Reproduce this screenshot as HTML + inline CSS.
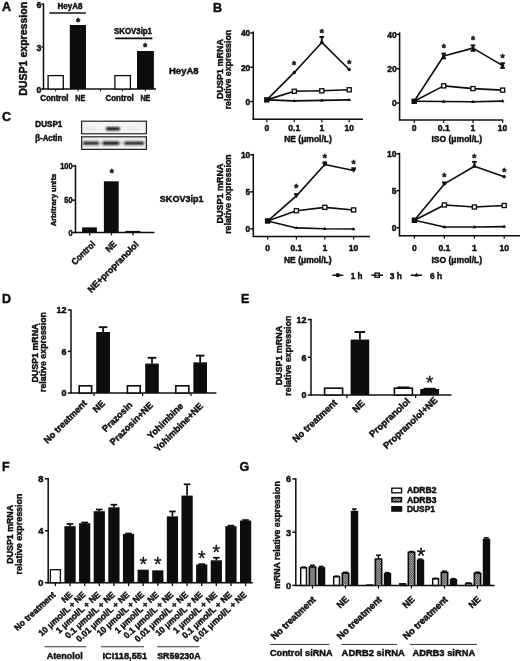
<!DOCTYPE html>
<html lang="en">
<head>
<meta charset="utf-8">
<title>DUSP1 expression figure</title>
<style>
html,body{margin:0;padding:0;background:#fff;}
body{width:520px;height:661px;overflow:hidden;}
svg{display:block;font-family:"Liberation Sans",Arial,Helvetica,sans-serif;}
text{font-weight:bold;fill:#0a0a0a;stroke:#0a0a0a;stroke-width:.42px;stroke-linejoin:round;}
text.s{font-weight:normal;stroke-width:.3px;}
</style>
</head>
<body>
<svg width="520" height="661" viewBox="0 0 520 661">
<defs>
<pattern id="hatch" width="2.4" height="2.4" patternUnits="userSpaceOnUse"><rect width="2.4" height="2.4" fill="#111"/><path d="M-0.82 0.00L0.00 -0.82L0.82 0.00L0.00 0.82ZM1.58 0.00L2.40 -0.82L3.22 0.00L2.40 0.82ZM-0.82 2.40L0.00 1.58L0.82 2.40L0.00 3.22ZM1.58 2.40L2.40 1.58L3.22 2.40L2.40 3.22ZM0.38 1.20L1.20 0.38L2.02 1.20L1.20 2.02Z" fill="#fff"/></pattern>
<filter id="soft" x="-5%" y="-5%" width="110%" height="110%"><feGaussianBlur stdDeviation="0.35"/></filter>
<filter id="blur1" x="-20%" y="-50%" width="140%" height="200%"><feGaussianBlur stdDeviation="0.9"/></filter>
</defs>
<rect width="520" height="661" fill="#fff"/>
<g filter="url(#soft)">
<text x="2" y="11.38" font-size="12.5">A</text>
<line x1="43.5" y1="3.5" x2="43.5" y2="89.6" stroke="#0a0a0a" stroke-width="1.5"/>
<line x1="42.4" y1="89" x2="156" y2="89" stroke="#0a0a0a" stroke-width="1.5"/>
<line x1="41.4" y1="4.2" x2="43.5" y2="4.2" stroke="#0a0a0a" stroke-width="1.5"/>
<text x="41.3" y="8.09" font-size="9.2" text-anchor="end" textLength="4.9" lengthAdjust="spacingAndGlyphs">6</text>
<line x1="41.4" y1="47" x2="43.5" y2="47" stroke="#0a0a0a" stroke-width="1.5"/>
<text x="41.3" y="50.89" font-size="9.2" text-anchor="end" textLength="4.9" lengthAdjust="spacingAndGlyphs">3</text>
<line x1="41.4" y1="89" x2="43.5" y2="89" stroke="#0a0a0a" stroke-width="1.5"/>
<text x="41.3" y="92.89" font-size="9.2" text-anchor="end" textLength="4.9" lengthAdjust="spacingAndGlyphs">0</text>
<text x="23.2" y="52.52" font-size="10.4" text-anchor="middle" transform="rotate(-90 23.2 48.8)" textLength="94" lengthAdjust="spacingAndGlyphs">DUSP1 expression</text>
<rect x="48.1" y="75.6" width="15.2" height="13.4" fill="#fff" stroke="#0a0a0a" stroke-width="1.3"/>
<rect x="69.8" y="25" width="16.2" height="64" fill="#0a0a0a"/>
<rect x="114.9" y="75.6" width="15.5" height="13.4" fill="#fff" stroke="#0a0a0a" stroke-width="1.3"/>
<rect x="137" y="51" width="16.9" height="38" fill="#0a0a0a"/>
<line x1="55.6" y1="89" x2="55.6" y2="91.4" stroke="#0a0a0a" stroke-width="1"/>
<line x1="78" y1="89" x2="78" y2="91.4" stroke="#0a0a0a" stroke-width="1"/>
<line x1="100.5" y1="89" x2="100.5" y2="91.4" stroke="#0a0a0a" stroke-width="1"/>
<line x1="122.6" y1="89" x2="122.6" y2="91.4" stroke="#0a0a0a" stroke-width="1"/>
<line x1="145.4" y1="89" x2="145.4" y2="91.4" stroke="#0a0a0a" stroke-width="1"/>
<text x="54.4" y="101.28" font-size="8.6" text-anchor="middle" textLength="28.3" lengthAdjust="spacingAndGlyphs">Control</text>
<text x="80.2" y="101.28" font-size="8.6" text-anchor="middle" textLength="10" lengthAdjust="spacingAndGlyphs">NE</text>
<text x="119.6" y="101.28" font-size="8.6" text-anchor="middle" textLength="28.3" lengthAdjust="spacingAndGlyphs">Control</text>
<text x="145.4" y="101.28" font-size="8.6" text-anchor="middle" textLength="10" lengthAdjust="spacingAndGlyphs">NE</text>
<text x="70" y="8.55" font-size="8.8" text-anchor="middle" textLength="25" lengthAdjust="spacingAndGlyphs">HeyA8</text>
<line x1="49.4" y1="13" x2="85.8" y2="13" stroke="#0a0a0a" stroke-width="1.6"/>
<text x="78.2" y="25.81" font-size="11" text-anchor="middle">*</text>
<text x="133" y="34.35" font-size="8.8" text-anchor="middle" textLength="38" lengthAdjust="spacingAndGlyphs">SKOV3ip1</text>
<line x1="115.2" y1="38.4" x2="152.4" y2="38.4" stroke="#0a0a0a" stroke-width="1.6"/>
<text x="145.2" y="50.91" font-size="11" text-anchor="middle">*</text>
<text x="169" y="74.31" font-size="9.8" textLength="29.6" lengthAdjust="spacingAndGlyphs">HeyA8</text>
<text x="213" y="11.88" font-size="12.5">B</text>
<line x1="253.3" y1="31.4" x2="253.3" y2="119.9" stroke="#0a0a0a" stroke-width="1.5"/>
<line x1="252.7" y1="119.3" x2="363" y2="119.3" stroke="#0a0a0a" stroke-width="1.5"/>
<line x1="250.3" y1="33" x2="253.3" y2="33" stroke="#0a0a0a" stroke-width="1.5"/>
<text x="250.3" y="36.45" font-size="8.8" text-anchor="end" textLength="9.4" lengthAdjust="spacingAndGlyphs">40</text>
<line x1="250.3" y1="67.3" x2="253.3" y2="67.3" stroke="#0a0a0a" stroke-width="1.5"/>
<text x="250.3" y="70.75" font-size="8.8" text-anchor="end" textLength="9.4" lengthAdjust="spacingAndGlyphs">20</text>
<line x1="250.3" y1="101.6" x2="253.3" y2="101.6" stroke="#0a0a0a" stroke-width="1.5"/>
<text x="250.3" y="105.05" font-size="8.8" text-anchor="end" textLength="4.7" lengthAdjust="spacingAndGlyphs">0</text>
<line x1="266.8" y1="119.3" x2="266.8" y2="122.3" stroke="#0a0a0a" stroke-width="1.2"/>
<text x="266.8" y="130.58" font-size="8.6" text-anchor="middle">0</text>
<line x1="294.3" y1="119.3" x2="294.3" y2="122.3" stroke="#0a0a0a" stroke-width="1.2"/>
<text x="294.3" y="130.58" font-size="8.6" text-anchor="middle">0.1</text>
<line x1="321.8" y1="119.3" x2="321.8" y2="122.3" stroke="#0a0a0a" stroke-width="1.2"/>
<text x="321.8" y="130.58" font-size="8.6" text-anchor="middle">1</text>
<line x1="349.2" y1="119.3" x2="349.2" y2="122.3" stroke="#0a0a0a" stroke-width="1.2"/>
<text x="349.2" y="130.58" font-size="8.6" text-anchor="middle">10</text>
<text x="308" y="142.02" font-size="9" text-anchor="middle" textLength="47.6" lengthAdjust="spacingAndGlyphs">NE (μmol/L)</text>
<text x="220.1" y="72.11" font-size="8.7" text-anchor="middle" transform="rotate(-90 220.1 69)" textLength="59.8" lengthAdjust="spacingAndGlyphs">DUSP1 mRNA</text>
<text x="228.1" y="72.71" font-size="8.7" text-anchor="middle" transform="rotate(-90 228.1 69.6)" textLength="79.4" lengthAdjust="spacingAndGlyphs">relative expression</text>
<polyline points="266.8,99.88 294.3,100.91 321.8,100.4 349.2,99.88" fill="none" stroke="#0a0a0a" stroke-width="1.6" stroke-linejoin="round"/>
<path d="M292.4 102.11L296.2 102.11L294.3 98.91Z" fill="#0a0a0a"/>
<path d="M319.9 101.6L323.7 101.6L321.8 98.4Z" fill="#0a0a0a"/>
<path d="M347.3 101.08L351.1 101.08L349.2 97.88Z" fill="#0a0a0a"/>
<polyline points="266.8,99.88 294.3,91.31 321.8,90.8 349.2,89.77" fill="none" stroke="#0a0a0a" stroke-width="1.6" stroke-linejoin="round"/>
<rect x="292.25" y="89.26" width="4.1" height="4.1" fill="#fff" stroke="#0a0a0a" stroke-width="1.3"/>
<rect x="319.75" y="88.75" width="4.1" height="4.1" fill="#fff" stroke="#0a0a0a" stroke-width="1.3"/>
<rect x="347.15" y="87.72" width="4.1" height="4.1" fill="#fff" stroke="#0a0a0a" stroke-width="1.3"/>
<polyline points="266.8,99.88 294.3,72.44 321.8,42.43 349.2,69.53" fill="none" stroke="#0a0a0a" stroke-width="1.6" stroke-linejoin="round"/>
<circle cx="294.3" cy="72.44" r="1.7" fill="#0a0a0a"/>
<circle cx="321.8" cy="42.43" r="1.7" fill="#0a0a0a"/>
<circle cx="349.2" cy="69.53" r="1.7" fill="#0a0a0a"/>
<line x1="321.8" y1="42.43" x2="321.8" y2="36.94" stroke="#0a0a0a" stroke-width="1.9"/>
<line x1="319.5" y1="36.94" x2="324.1" y2="36.94" stroke="#0a0a0a" stroke-width="1.9"/>
<rect x="264.1" y="97.18" width="5.4" height="5.4" fill="#0a0a0a"/>
<text x="294" y="68.95" font-size="10.5" text-anchor="middle">*</text>
<text x="321.8" y="36.95" font-size="10.5" text-anchor="middle">*</text>
<text x="349.2" y="67.95" font-size="10.5" text-anchor="middle">*</text>
<line x1="399.6" y1="32.4" x2="399.6" y2="120.6" stroke="#0a0a0a" stroke-width="1.5"/>
<line x1="399" y1="120" x2="503.2" y2="120" stroke="#0a0a0a" stroke-width="1.5"/>
<line x1="396.6" y1="34.4" x2="399.6" y2="34.4" stroke="#0a0a0a" stroke-width="1.5"/>
<text x="396.6" y="37.85" font-size="8.8" text-anchor="end" textLength="9.4" lengthAdjust="spacingAndGlyphs">40</text>
<line x1="396.6" y1="68.7" x2="399.6" y2="68.7" stroke="#0a0a0a" stroke-width="1.5"/>
<text x="396.6" y="72.15" font-size="8.8" text-anchor="end" textLength="9.4" lengthAdjust="spacingAndGlyphs">20</text>
<line x1="396.6" y1="103" x2="399.6" y2="103" stroke="#0a0a0a" stroke-width="1.5"/>
<text x="396.6" y="106.45" font-size="8.8" text-anchor="end" textLength="4.7" lengthAdjust="spacingAndGlyphs">0</text>
<line x1="414.2" y1="120" x2="414.2" y2="123" stroke="#0a0a0a" stroke-width="1.2"/>
<text x="414.2" y="131.28" font-size="8.6" text-anchor="middle">0</text>
<line x1="443.7" y1="120" x2="443.7" y2="123" stroke="#0a0a0a" stroke-width="1.2"/>
<text x="443.7" y="131.28" font-size="8.6" text-anchor="middle">0.1</text>
<line x1="473" y1="120" x2="473" y2="123" stroke="#0a0a0a" stroke-width="1.2"/>
<text x="473" y="131.28" font-size="8.6" text-anchor="middle">1</text>
<line x1="502.6" y1="120" x2="502.6" y2="123" stroke="#0a0a0a" stroke-width="1.2"/>
<text x="502.6" y="131.28" font-size="8.6" text-anchor="middle">10</text>
<text x="456.8" y="142.02" font-size="9" text-anchor="middle" textLength="50.6" lengthAdjust="spacingAndGlyphs">ISO (μmol/L)</text>
<polyline points="414.2,101.28 443.7,101.46 473,101.8 502.6,101.11" fill="none" stroke="#0a0a0a" stroke-width="1.6" stroke-linejoin="round"/>
<path d="M441.8 102.66L445.6 102.66L443.7 99.46Z" fill="#0a0a0a"/>
<path d="M471.1 103L474.9 103L473 99.8Z" fill="#0a0a0a"/>
<path d="M500.7 102.31L504.5 102.31L502.6 99.11Z" fill="#0a0a0a"/>
<polyline points="414.2,101.28 443.7,85.85 473,88.59 502.6,90.14" fill="none" stroke="#0a0a0a" stroke-width="1.6" stroke-linejoin="round"/>
<rect x="441.65" y="83.8" width="4.1" height="4.1" fill="#fff" stroke="#0a0a0a" stroke-width="1.3"/>
<rect x="470.95" y="86.54" width="4.1" height="4.1" fill="#fff" stroke="#0a0a0a" stroke-width="1.3"/>
<rect x="500.55" y="88.09" width="4.1" height="4.1" fill="#fff" stroke="#0a0a0a" stroke-width="1.3"/>
<polyline points="414.2,101.28 443.7,56.01 473,48.12 502.6,65.61" fill="none" stroke="#0a0a0a" stroke-width="1.6" stroke-linejoin="round"/>
<circle cx="443.7" cy="56.01" r="1.7" fill="#0a0a0a"/>
<circle cx="473" cy="48.12" r="1.7" fill="#0a0a0a"/>
<circle cx="502.6" cy="65.61" r="1.7" fill="#0a0a0a"/>
<line x1="443.7" y1="58.41" x2="443.7" y2="53.61" stroke="#0a0a0a" stroke-width="1.9"/>
<line x1="441.4" y1="53.61" x2="446" y2="53.61" stroke="#0a0a0a" stroke-width="1.9"/>
<line x1="441.4" y1="58.41" x2="446" y2="58.41" stroke="#0a0a0a" stroke-width="1.9"/>
<line x1="473" y1="50.86" x2="473" y2="45.38" stroke="#0a0a0a" stroke-width="1.9"/>
<line x1="470.7" y1="45.38" x2="475.3" y2="45.38" stroke="#0a0a0a" stroke-width="1.9"/>
<line x1="470.7" y1="50.86" x2="475.3" y2="50.86" stroke="#0a0a0a" stroke-width="1.9"/>
<line x1="502.6" y1="68.01" x2="502.6" y2="63.21" stroke="#0a0a0a" stroke-width="1.9"/>
<line x1="500.3" y1="63.21" x2="504.9" y2="63.21" stroke="#0a0a0a" stroke-width="1.9"/>
<line x1="500.3" y1="68.01" x2="504.9" y2="68.01" stroke="#0a0a0a" stroke-width="1.9"/>
<rect x="411.5" y="98.58" width="5.4" height="5.4" fill="#0a0a0a"/>
<text x="443.7" y="51.95" font-size="10.5" text-anchor="middle">*</text>
<text x="473" y="43.95" font-size="10.5" text-anchor="middle">*</text>
<text x="502.6" y="62.35" font-size="10.5" text-anchor="middle">*</text>
<line x1="253.3" y1="153.8" x2="253.3" y2="237" stroke="#0a0a0a" stroke-width="1.5"/>
<line x1="252.7" y1="236.4" x2="370" y2="236.4" stroke="#0a0a0a" stroke-width="1.5"/>
<line x1="250.3" y1="154.8" x2="253.3" y2="154.8" stroke="#0a0a0a" stroke-width="1.5"/>
<text x="250.3" y="158.25" font-size="8.8" text-anchor="end" textLength="9.4" lengthAdjust="spacingAndGlyphs">10</text>
<line x1="250.3" y1="191.8" x2="253.3" y2="191.8" stroke="#0a0a0a" stroke-width="1.5"/>
<text x="250.3" y="195.25" font-size="8.8" text-anchor="end" textLength="4.7" lengthAdjust="spacingAndGlyphs">5</text>
<line x1="250.3" y1="228.8" x2="253.3" y2="228.8" stroke="#0a0a0a" stroke-width="1.5"/>
<text x="250.3" y="232.25" font-size="8.8" text-anchor="end" textLength="4.7" lengthAdjust="spacingAndGlyphs">0</text>
<line x1="267.6" y1="236.4" x2="267.6" y2="239.4" stroke="#0a0a0a" stroke-width="1.2"/>
<text x="267.6" y="250.58" font-size="8.6" text-anchor="middle">0</text>
<line x1="296.4" y1="236.4" x2="296.4" y2="239.4" stroke="#0a0a0a" stroke-width="1.2"/>
<text x="296.4" y="250.58" font-size="8.6" text-anchor="middle">0.1</text>
<line x1="324.8" y1="236.4" x2="324.8" y2="239.4" stroke="#0a0a0a" stroke-width="1.2"/>
<text x="324.8" y="250.58" font-size="8.6" text-anchor="middle">1</text>
<line x1="353.6" y1="236.4" x2="353.6" y2="239.4" stroke="#0a0a0a" stroke-width="1.2"/>
<text x="353.6" y="250.58" font-size="8.6" text-anchor="middle">10</text>
<text x="307.8" y="263.22" font-size="9" text-anchor="middle" textLength="47.6" lengthAdjust="spacingAndGlyphs">NE (μmol/L)</text>
<text x="220.1" y="196.61" font-size="8.7" text-anchor="middle" transform="rotate(-90 220.1 193.5)" textLength="59.8" lengthAdjust="spacingAndGlyphs">DUSP1 mRNA</text>
<text x="228.1" y="197.21" font-size="8.7" text-anchor="middle" transform="rotate(-90 228.1 194.1)" textLength="79.4" lengthAdjust="spacingAndGlyphs">relative expression</text>
<polyline points="267.6,221.03 296.4,227.91 324.8,228.8 353.6,228.95" fill="none" stroke="#0a0a0a" stroke-width="1.6" stroke-linejoin="round"/>
<path d="M294.5 229.11L298.3 229.11L296.4 225.91Z" fill="#0a0a0a"/>
<path d="M322.9 230L326.7 230L324.8 226.8Z" fill="#0a0a0a"/>
<path d="M351.7 230.15L355.5 230.15L353.6 226.95Z" fill="#0a0a0a"/>
<polyline points="267.6,221.03 296.4,210.67 324.8,207.34 353.6,209.93" fill="none" stroke="#0a0a0a" stroke-width="1.6" stroke-linejoin="round"/>
<rect x="294.35" y="208.62" width="4.1" height="4.1" fill="#fff" stroke="#0a0a0a" stroke-width="1.3"/>
<rect x="322.75" y="205.29" width="4.1" height="4.1" fill="#fff" stroke="#0a0a0a" stroke-width="1.3"/>
<rect x="351.55" y="207.88" width="4.1" height="4.1" fill="#fff" stroke="#0a0a0a" stroke-width="1.3"/>
<polyline points="267.6,221.03 296.4,195.87 324.8,164.57 353.6,170.49" fill="none" stroke="#0a0a0a" stroke-width="1.6" stroke-linejoin="round"/>
<path d="M293.8 194.27L299 194.27L296.4 198.07Z" fill="#0a0a0a"/>
<path d="M322.2 162.97L327.4 162.97L324.8 166.77Z" fill="#0a0a0a"/>
<path d="M351 168.89L356.2 168.89L353.6 172.69Z" fill="#0a0a0a"/>
<line x1="296.4" y1="195.87" x2="296.4" y2="194.02" stroke="#0a0a0a" stroke-width="1.9"/>
<line x1="294.1" y1="194.02" x2="298.7" y2="194.02" stroke="#0a0a0a" stroke-width="1.9"/>
<line x1="324.8" y1="164.57" x2="324.8" y2="162.35" stroke="#0a0a0a" stroke-width="1.9"/>
<line x1="322.5" y1="162.35" x2="327.1" y2="162.35" stroke="#0a0a0a" stroke-width="1.9"/>
<line x1="353.6" y1="170.49" x2="353.6" y2="168.27" stroke="#0a0a0a" stroke-width="1.9"/>
<line x1="351.3" y1="168.27" x2="355.9" y2="168.27" stroke="#0a0a0a" stroke-width="1.9"/>
<rect x="264.9" y="218.33" width="5.4" height="5.4" fill="#0a0a0a"/>
<text x="296.4" y="191.95" font-size="10.5" text-anchor="middle">*</text>
<text x="324.8" y="161.75" font-size="10.5" text-anchor="middle">*</text>
<text x="353.6" y="167.55" font-size="10.5" text-anchor="middle">*</text>
<line x1="399.5" y1="152.8" x2="399.5" y2="236.4" stroke="#0a0a0a" stroke-width="1.5"/>
<line x1="398.9" y1="235.8" x2="520" y2="235.8" stroke="#0a0a0a" stroke-width="1.5"/>
<line x1="396.5" y1="153.7" x2="399.5" y2="153.7" stroke="#0a0a0a" stroke-width="1.5"/>
<text x="396.5" y="157.15" font-size="8.8" text-anchor="end" textLength="9.4" lengthAdjust="spacingAndGlyphs">10</text>
<line x1="396.5" y1="190.7" x2="399.5" y2="190.7" stroke="#0a0a0a" stroke-width="1.5"/>
<text x="396.5" y="194.15" font-size="8.8" text-anchor="end" textLength="4.7" lengthAdjust="spacingAndGlyphs">5</text>
<line x1="396.5" y1="227.7" x2="399.5" y2="227.7" stroke="#0a0a0a" stroke-width="1.5"/>
<text x="396.5" y="231.15" font-size="8.8" text-anchor="end" textLength="4.7" lengthAdjust="spacingAndGlyphs">0</text>
<line x1="414.4" y1="235.8" x2="414.4" y2="238.8" stroke="#0a0a0a" stroke-width="1.2"/>
<text x="414.4" y="250.58" font-size="8.6" text-anchor="middle">0</text>
<line x1="444.4" y1="235.8" x2="444.4" y2="238.8" stroke="#0a0a0a" stroke-width="1.2"/>
<text x="444.4" y="250.58" font-size="8.6" text-anchor="middle">0.1</text>
<line x1="474.4" y1="235.8" x2="474.4" y2="238.8" stroke="#0a0a0a" stroke-width="1.2"/>
<text x="474.4" y="250.58" font-size="8.6" text-anchor="middle">1</text>
<line x1="504.2" y1="235.8" x2="504.2" y2="238.8" stroke="#0a0a0a" stroke-width="1.2"/>
<text x="504.2" y="250.58" font-size="8.6" text-anchor="middle">10</text>
<text x="456.8" y="263.22" font-size="9" text-anchor="middle" textLength="50.6" lengthAdjust="spacingAndGlyphs">ISO (μmol/L)</text>
<polyline points="414.4,220.3 444.4,226.96 474.4,226.96 504.2,226.59" fill="none" stroke="#0a0a0a" stroke-width="1.6" stroke-linejoin="round"/>
<path d="M442.5 228.16L446.3 228.16L444.4 224.96Z" fill="#0a0a0a"/>
<path d="M472.5 228.16L476.3 228.16L474.4 224.96Z" fill="#0a0a0a"/>
<path d="M502.3 227.79L506.1 227.79L504.2 224.59Z" fill="#0a0a0a"/>
<polyline points="414.4,220.3 444.4,204.98 474.4,206.98 504.2,205.5" fill="none" stroke="#0a0a0a" stroke-width="1.6" stroke-linejoin="round"/>
<rect x="442.35" y="202.93" width="4.1" height="4.1" fill="#fff" stroke="#0a0a0a" stroke-width="1.3"/>
<rect x="472.35" y="204.93" width="4.1" height="4.1" fill="#fff" stroke="#0a0a0a" stroke-width="1.3"/>
<rect x="502.15" y="203.45" width="4.1" height="4.1" fill="#fff" stroke="#0a0a0a" stroke-width="1.3"/>
<polyline points="414.4,220.3 444.4,183.89 474.4,166.28 504.2,176.64" fill="none" stroke="#0a0a0a" stroke-width="1.6" stroke-linejoin="round"/>
<circle cx="444.4" cy="183.89" r="1.7" fill="#0a0a0a"/>
<circle cx="474.4" cy="166.28" r="1.7" fill="#0a0a0a"/>
<circle cx="504.2" cy="176.64" r="1.7" fill="#0a0a0a"/>
<line x1="444.4" y1="183.89" x2="444.4" y2="182.41" stroke="#0a0a0a" stroke-width="1.9"/>
<line x1="442.1" y1="182.41" x2="446.7" y2="182.41" stroke="#0a0a0a" stroke-width="1.9"/>
<line x1="474.4" y1="166.28" x2="474.4" y2="161.84" stroke="#0a0a0a" stroke-width="1.9"/>
<line x1="472.1" y1="161.84" x2="476.7" y2="161.84" stroke="#0a0a0a" stroke-width="1.9"/>
<rect x="411.7" y="217.6" width="5.4" height="5.4" fill="#0a0a0a"/>
<text x="444.4" y="180.55" font-size="10.5" text-anchor="middle">*</text>
<text x="474.4" y="161.75" font-size="10.5" text-anchor="middle">*</text>
<text x="504.2" y="175.55" font-size="10.5" text-anchor="middle">*</text>
<line x1="332.4" y1="275.2" x2="343.2" y2="275.2" stroke="#0a0a0a" stroke-width="1.5"/>
<circle cx="337.8" cy="275.2" r="2.1" fill="#0a0a0a"/>
<text x="350.8" y="278.57" font-size="9.4" textLength="11.8" lengthAdjust="spacingAndGlyphs">1 h</text>
<line x1="371.4" y1="275.2" x2="383" y2="275.2" stroke="#0a0a0a" stroke-width="1.5"/>
<rect x="375" y="273.1" width="4.4" height="4.2" fill="#fff" stroke="#0a0a0a" stroke-width="1.3"/>
<line x1="375" y1="275.2" x2="379.4" y2="275.2" stroke="#0a0a0a" stroke-width="1"/>
<text x="389.8" y="278.57" font-size="9.4" textLength="12.2" lengthAdjust="spacingAndGlyphs">3 h</text>
<line x1="410.8" y1="275.2" x2="422" y2="275.2" stroke="#0a0a0a" stroke-width="1.5"/>
<path d="M414.2 276.6L418.8 276.6L416.5 272.8Z" fill="#0a0a0a"/>
<text x="430" y="278.57" font-size="9.4" textLength="12.2" lengthAdjust="spacingAndGlyphs">6 h</text>
<text x="2" y="121.07" font-size="12.5">C</text>
<text x="35.3" y="126.61" font-size="8.4" textLength="27" lengthAdjust="spacingAndGlyphs">DUSP1</text>
<text x="35.3" y="141.41" font-size="8.4" textLength="27" lengthAdjust="spacingAndGlyphs">β-Actin</text>
<rect x="81.6" y="121.2" width="64.8" height="12.6" fill="#f3f3f3" stroke="#222" stroke-width="1.2"/>
<rect x="81.6" y="136.8" width="64.8" height="12.6" fill="#efefef" stroke="#222" stroke-width="1.2"/>
<g filter="url(#blur1)">
<rect x="106.2" y="127.2" width="13.6" height="3.2" fill="#000"/>
<rect x="85" y="128" width="12" height="1.6" fill="#d8d8d8"/>
<rect x="128" y="128" width="12" height="1.6" fill="#dcdcdc"/>
<rect x="83" y="142.2" width="61" height="1.8" fill="#b8b8b8"/>
<rect x="83" y="141.6" width="16" height="3.2" fill="#1a1a1a"/>
<rect x="102.4" y="141.5" width="17" height="3.4" fill="#111"/>
<rect x="124.2" y="141.6" width="19.6" height="3.2" fill="#1a1a1a"/>
</g>
<line x1="75.5" y1="164.8" x2="75.5" y2="233.2" stroke="#0a0a0a" stroke-width="1.5"/>
<line x1="74.8" y1="232.5" x2="154.4" y2="232.5" stroke="#0a0a0a" stroke-width="1.5"/>
<line x1="72.4" y1="166" x2="75.5" y2="166" stroke="#0a0a0a" stroke-width="1.5"/>
<text x="72.6" y="169.21" font-size="8.4" text-anchor="end" textLength="12.45" lengthAdjust="spacingAndGlyphs">100</text>
<line x1="72.4" y1="200.2" x2="75.5" y2="200.2" stroke="#0a0a0a" stroke-width="1.5"/>
<text x="72.6" y="203.41" font-size="8.4" text-anchor="end" textLength="8.3" lengthAdjust="spacingAndGlyphs">50</text>
<line x1="72.4" y1="232.5" x2="75.5" y2="232.5" stroke="#0a0a0a" stroke-width="1.5"/>
<text x="72.6" y="235.71" font-size="8.4" text-anchor="end" textLength="4.15" lengthAdjust="spacingAndGlyphs">0</text>
<text x="53.6" y="202.86" font-size="8" text-anchor="middle" transform="rotate(-90 53.6 200)" textLength="52.5" lengthAdjust="spacingAndGlyphs">Arbitrary units</text>
<rect x="82.1" y="227.4" width="14.8" height="5.1" fill="#0a0a0a"/>
<rect x="103.9" y="181.3" width="14.8" height="51.2" fill="#0a0a0a"/>
<rect x="125.5" y="230.9" width="14.8" height="1.6" fill="#0a0a0a"/>
<line x1="89.7" y1="232.5" x2="89.7" y2="235.4" stroke="#0a0a0a" stroke-width="1.2"/>
<line x1="111.5" y1="232.5" x2="111.5" y2="235.4" stroke="#0a0a0a" stroke-width="1.2"/>
<line x1="133" y1="232.5" x2="133" y2="235.4" stroke="#0a0a0a" stroke-width="1.2"/>
<text x="111.8" y="176.55" font-size="10.5" text-anchor="middle">*</text>
<text x="159.8" y="202.44" font-size="9.6" textLength="43.8" lengthAdjust="spacingAndGlyphs">SKOV3ip1</text>
<text x="93.6" y="245.62" font-size="9" text-anchor="end" transform="rotate(-45 93.6 242.4)" textLength="29.5" lengthAdjust="spacingAndGlyphs">Control</text>
<text x="115" y="245.62" font-size="9" text-anchor="end" transform="rotate(-45 115 242.4)" textLength="11.5" lengthAdjust="spacingAndGlyphs">NE</text>
<text x="137" y="246.02" font-size="9" text-anchor="end" transform="rotate(-45 137 242.8)" textLength="68" lengthAdjust="spacingAndGlyphs">NE+propranolol</text>
<text x="2" y="302.88" font-size="12.5">D</text>
<line x1="71" y1="309.4" x2="71" y2="393.6" stroke="#0a0a0a" stroke-width="1.5"/>
<line x1="70.4" y1="393" x2="216.4" y2="393" stroke="#0a0a0a" stroke-width="1.5"/>
<line x1="67.8" y1="310" x2="71" y2="310" stroke="#0a0a0a" stroke-width="1.5"/>
<text x="66.6" y="313.49" font-size="9.2" text-anchor="end" textLength="10" lengthAdjust="spacingAndGlyphs">12</text>
<line x1="67.8" y1="351.4" x2="71" y2="351.4" stroke="#0a0a0a" stroke-width="1.5"/>
<text x="66.6" y="354.89" font-size="9.2" text-anchor="end" textLength="5" lengthAdjust="spacingAndGlyphs">6</text>
<line x1="67.8" y1="393" x2="71" y2="393" stroke="#0a0a0a" stroke-width="1.5"/>
<text x="66.6" y="396.49" font-size="9.2" text-anchor="end" textLength="5" lengthAdjust="spacingAndGlyphs">0</text>
<text x="34.8" y="356.15" font-size="8.8" text-anchor="middle" transform="rotate(-90 34.8 353)" textLength="59" lengthAdjust="spacingAndGlyphs">DUSP1 mRNA</text>
<text x="43.2" y="355.15" font-size="8.8" text-anchor="middle" transform="rotate(-90 43.2 352)" textLength="80" lengthAdjust="spacingAndGlyphs">relative expression</text>
<rect x="79.2" y="385.8" width="12.4" height="7.2" fill="#fff" stroke="#0a0a0a" stroke-width="1.6"/>
<rect x="96.2" y="332" width="13.8" height="61" fill="#0a0a0a"/>
<line x1="103.1" y1="332" x2="103.1" y2="327.2" stroke="#0a0a0a" stroke-width="1.8"/>
<line x1="98.8" y1="327.2" x2="107.4" y2="327.2" stroke="#0a0a0a" stroke-width="1.8"/>
<rect x="127.4" y="385.8" width="12.8" height="7.2" fill="#fff" stroke="#0a0a0a" stroke-width="1.6"/>
<rect x="145.2" y="363.6" width="13.6" height="29.4" fill="#0a0a0a"/>
<line x1="152" y1="363.6" x2="152" y2="357.8" stroke="#0a0a0a" stroke-width="1.8"/>
<line x1="147.7" y1="357.8" x2="156.3" y2="357.8" stroke="#0a0a0a" stroke-width="1.8"/>
<rect x="175.8" y="385.8" width="13" height="7.2" fill="#fff" stroke="#0a0a0a" stroke-width="1.6"/>
<rect x="193.4" y="362.4" width="13.6" height="30.6" fill="#0a0a0a"/>
<line x1="200.2" y1="362.4" x2="200.2" y2="355.6" stroke="#0a0a0a" stroke-width="1.8"/>
<line x1="195.9" y1="355.6" x2="204.5" y2="355.6" stroke="#0a0a0a" stroke-width="1.8"/>
<line x1="94" y1="393" x2="94" y2="396" stroke="#0a0a0a" stroke-width="1.2"/>
<line x1="142.6" y1="393" x2="142.6" y2="396" stroke="#0a0a0a" stroke-width="1.2"/>
<line x1="191" y1="393" x2="191" y2="396" stroke="#0a0a0a" stroke-width="1.2"/>
<text x="85.2" y="404.89" font-size="9.2" text-anchor="end" transform="rotate(-45 85.2 401.6)">No treatment</text>
<text x="103.2" y="405.09" font-size="9.2" text-anchor="end" transform="rotate(-45 103.2 401.8)">NE</text>
<text x="130.6" y="406.49" font-size="9.2" text-anchor="end" transform="rotate(-45 130.6 403.2)">Prazosin</text>
<text x="151.2" y="406.89" font-size="9.2" text-anchor="end" transform="rotate(-45 151.2 403.6)">Prazosin+NE</text>
<text x="181.5" y="407.69" font-size="9.2" text-anchor="end" transform="rotate(-45 181.5 404.4)">Yohimbine</text>
<text x="201.2" y="407.69" font-size="9.2" text-anchor="end" transform="rotate(-45 201.2 404.4)">Yohimbine+NE</text>
<text x="241" y="302.88" font-size="12.5">E</text>
<line x1="311" y1="318.8" x2="311" y2="395.6" stroke="#0a0a0a" stroke-width="1.5"/>
<line x1="309.9" y1="395" x2="451.4" y2="395" stroke="#0a0a0a" stroke-width="1.5"/>
<line x1="307.8" y1="319.6" x2="311" y2="319.6" stroke="#0a0a0a" stroke-width="1.5"/>
<text x="306.6" y="323.09" font-size="9.2" text-anchor="end" textLength="10" lengthAdjust="spacingAndGlyphs">12</text>
<line x1="307.8" y1="357.3" x2="311" y2="357.3" stroke="#0a0a0a" stroke-width="1.5"/>
<text x="306.6" y="360.79" font-size="9.2" text-anchor="end" textLength="5" lengthAdjust="spacingAndGlyphs">6</text>
<line x1="307.8" y1="395" x2="311" y2="395" stroke="#0a0a0a" stroke-width="1.5"/>
<text x="306.6" y="398.49" font-size="9.2" text-anchor="end" textLength="5" lengthAdjust="spacingAndGlyphs">0</text>
<text x="278.8" y="358.75" font-size="8.8" text-anchor="middle" transform="rotate(-90 278.8 355.6)" textLength="59.5" lengthAdjust="spacingAndGlyphs">DUSP1 mRNA</text>
<text x="287.6" y="358.85" font-size="8.8" text-anchor="middle" transform="rotate(-90 287.6 355.7)" textLength="80" lengthAdjust="spacingAndGlyphs">relative expression</text>
<rect x="324.6" y="388.2" width="18" height="6.8" fill="#fff" stroke="#0a0a0a" stroke-width="1.6"/>
<rect x="350.6" y="339.6" width="18.6" height="55.4" fill="#0a0a0a"/>
<line x1="359.9" y1="339.6" x2="359.9" y2="332" stroke="#0a0a0a" stroke-width="1.9"/>
<line x1="354.6" y1="332" x2="365.2" y2="332" stroke="#0a0a0a" stroke-width="1.9"/>
<rect x="394.4" y="388.2" width="18" height="6.8" fill="#fff" stroke="#0a0a0a" stroke-width="1.6"/>
<line x1="397.4" y1="387.3" x2="409.4" y2="387.3" stroke="#0a0a0a" stroke-width="1.6"/>
<rect x="420.2" y="389" width="18.8" height="6" fill="#0a0a0a"/>
<line x1="423.6" y1="388.6" x2="435.6" y2="388.6" stroke="#0a0a0a" stroke-width="1.6"/>
<line x1="347" y1="395" x2="347" y2="398" stroke="#0a0a0a" stroke-width="1.2"/>
<line x1="415.6" y1="395" x2="415.6" y2="398" stroke="#0a0a0a" stroke-width="1.2"/>
<text class="s" x="429.6" y="388.88" font-size="19" text-anchor="middle">*</text>
<text x="335.5" y="404.33" font-size="9.3" text-anchor="end" transform="rotate(-43.4 335.5 401)">No treatment</text>
<text x="363" y="404.93" font-size="9.3" text-anchor="end" transform="rotate(-43.4 363 401.6)">NE</text>
<text x="408.4" y="402.93" font-size="9.3" text-anchor="end" transform="rotate(-43.4 408.4 399.6)">Propranolol</text>
<text x="435.8" y="401.93" font-size="9.3" text-anchor="end" transform="rotate(-43.4 435.8 398.6)">Propranolol+NE</text>
<text x="2" y="470.88" font-size="12.5">F</text>
<line x1="48.2" y1="477.9" x2="48.2" y2="583.4" stroke="#0a0a0a" stroke-width="1.5"/>
<line x1="47.5" y1="582.7" x2="252.8" y2="582.7" stroke="#0a0a0a" stroke-width="1.5"/>
<line x1="44.8" y1="478.7" x2="48.2" y2="478.7" stroke="#0a0a0a" stroke-width="1.5"/>
<text x="43.4" y="482.19" font-size="9.2" text-anchor="end" textLength="5.2" lengthAdjust="spacingAndGlyphs">8</text>
<line x1="44.8" y1="530.7" x2="48.2" y2="530.7" stroke="#0a0a0a" stroke-width="1.5"/>
<text x="43.4" y="534.19" font-size="9.2" text-anchor="end" textLength="5.2" lengthAdjust="spacingAndGlyphs">4</text>
<line x1="44.8" y1="582.7" x2="48.2" y2="582.7" stroke="#0a0a0a" stroke-width="1.5"/>
<text x="43.4" y="586.19" font-size="9.2" text-anchor="end" textLength="5.2" lengthAdjust="spacingAndGlyphs">0</text>
<text x="9.8" y="537.45" font-size="8.8" text-anchor="middle" transform="rotate(-90 9.8 534.3)" textLength="58.8" lengthAdjust="spacingAndGlyphs">DUSP1 mRNA</text>
<text x="19" y="537.15" font-size="8.8" text-anchor="middle" transform="rotate(-90 19 534)" textLength="81" lengthAdjust="spacingAndGlyphs">relative expression</text>
<rect x="50.4" y="569.7" width="10" height="13" fill="#fff" stroke="#0a0a0a" stroke-width="1.3"/>
<line x1="55.4" y1="582.7" x2="55.4" y2="586.1" stroke="#0a0a0a" stroke-width="1.3"/>
<rect x="64.43" y="526.15" width="11.2" height="56.55" fill="#0a0a0a"/>
<line x1="70.03" y1="526.15" x2="70.03" y2="523.94" stroke="#0a0a0a" stroke-width="1.7"/>
<line x1="66.73" y1="523.94" x2="73.33" y2="523.94" stroke="#0a0a0a" stroke-width="1.7"/>
<line x1="70.03" y1="582.7" x2="70.03" y2="586.1" stroke="#0a0a0a" stroke-width="1.3"/>
<rect x="79.06" y="523.16" width="11.2" height="59.54" fill="#0a0a0a"/>
<line x1="84.66" y1="523.16" x2="84.66" y2="522.51" stroke="#0a0a0a" stroke-width="1.7"/>
<line x1="81.36" y1="522.51" x2="87.96" y2="522.51" stroke="#0a0a0a" stroke-width="1.7"/>
<line x1="84.66" y1="582.7" x2="84.66" y2="586.1" stroke="#0a0a0a" stroke-width="1.3"/>
<rect x="93.69" y="511.2" width="11.2" height="71.5" fill="#0a0a0a"/>
<line x1="99.29" y1="511.2" x2="99.29" y2="509.51" stroke="#0a0a0a" stroke-width="1.7"/>
<line x1="95.99" y1="509.51" x2="102.59" y2="509.51" stroke="#0a0a0a" stroke-width="1.7"/>
<line x1="99.29" y1="582.7" x2="99.29" y2="586.1" stroke="#0a0a0a" stroke-width="1.3"/>
<rect x="108.32" y="507.3" width="11.2" height="75.4" fill="#0a0a0a"/>
<line x1="113.92" y1="507.3" x2="113.92" y2="504.7" stroke="#0a0a0a" stroke-width="1.7"/>
<line x1="110.62" y1="504.7" x2="117.22" y2="504.7" stroke="#0a0a0a" stroke-width="1.7"/>
<line x1="113.92" y1="582.7" x2="113.92" y2="586.1" stroke="#0a0a0a" stroke-width="1.3"/>
<rect x="122.95" y="533.95" width="11.2" height="48.75" fill="#0a0a0a"/>
<line x1="128.55" y1="533.95" x2="128.55" y2="533.56" stroke="#0a0a0a" stroke-width="1.7"/>
<line x1="125.25" y1="533.56" x2="131.85" y2="533.56" stroke="#0a0a0a" stroke-width="1.7"/>
<line x1="128.55" y1="582.7" x2="128.55" y2="586.1" stroke="#0a0a0a" stroke-width="1.3"/>
<rect x="137.58" y="569.7" width="11.2" height="13" fill="#0a0a0a"/>
<line x1="143.18" y1="582.7" x2="143.18" y2="586.1" stroke="#0a0a0a" stroke-width="1.3"/>
<rect x="152.21" y="570.35" width="11.2" height="12.35" fill="#0a0a0a"/>
<line x1="157.81" y1="582.7" x2="157.81" y2="586.1" stroke="#0a0a0a" stroke-width="1.3"/>
<rect x="166.84" y="516.4" width="11.2" height="66.3" fill="#0a0a0a"/>
<line x1="172.44" y1="516.4" x2="172.44" y2="511.46" stroke="#0a0a0a" stroke-width="1.7"/>
<line x1="169.14" y1="511.46" x2="175.74" y2="511.46" stroke="#0a0a0a" stroke-width="1.7"/>
<line x1="172.44" y1="582.7" x2="172.44" y2="586.1" stroke="#0a0a0a" stroke-width="1.3"/>
<rect x="181.47" y="495.6" width="11.2" height="87.1" fill="#0a0a0a"/>
<line x1="187.07" y1="495.6" x2="187.07" y2="484.29" stroke="#0a0a0a" stroke-width="1.7"/>
<line x1="183.77" y1="484.29" x2="190.37" y2="484.29" stroke="#0a0a0a" stroke-width="1.7"/>
<line x1="187.07" y1="582.7" x2="187.07" y2="586.1" stroke="#0a0a0a" stroke-width="1.3"/>
<rect x="196.1" y="564.5" width="11.2" height="18.2" fill="#0a0a0a"/>
<line x1="201.7" y1="564.5" x2="201.7" y2="564.11" stroke="#0a0a0a" stroke-width="1.7"/>
<line x1="198.4" y1="564.11" x2="205" y2="564.11" stroke="#0a0a0a" stroke-width="1.7"/>
<line x1="201.7" y1="582.7" x2="201.7" y2="586.1" stroke="#0a0a0a" stroke-width="1.3"/>
<rect x="210.73" y="560.34" width="11.2" height="22.36" fill="#0a0a0a"/>
<line x1="216.33" y1="560.34" x2="216.33" y2="557.74" stroke="#0a0a0a" stroke-width="1.7"/>
<line x1="213.03" y1="557.74" x2="219.63" y2="557.74" stroke="#0a0a0a" stroke-width="1.7"/>
<line x1="216.33" y1="582.7" x2="216.33" y2="586.1" stroke="#0a0a0a" stroke-width="1.3"/>
<rect x="225.36" y="526.15" width="11.2" height="56.55" fill="#0a0a0a"/>
<line x1="230.96" y1="526.15" x2="230.96" y2="525.63" stroke="#0a0a0a" stroke-width="1.7"/>
<line x1="227.66" y1="525.63" x2="234.26" y2="525.63" stroke="#0a0a0a" stroke-width="1.7"/>
<line x1="230.96" y1="582.7" x2="230.96" y2="586.1" stroke="#0a0a0a" stroke-width="1.3"/>
<rect x="239.99" y="520.56" width="11.2" height="62.14" fill="#0a0a0a"/>
<line x1="245.59" y1="520.56" x2="245.59" y2="520.04" stroke="#0a0a0a" stroke-width="1.7"/>
<line x1="242.29" y1="520.04" x2="248.89" y2="520.04" stroke="#0a0a0a" stroke-width="1.7"/>
<line x1="245.59" y1="582.7" x2="245.59" y2="586.1" stroke="#0a0a0a" stroke-width="1.3"/>
<text class="s" x="143.18" y="571.34" font-size="19.5" text-anchor="middle">*</text>
<text class="s" x="157.81" y="571.34" font-size="19.5" text-anchor="middle">*</text>
<text class="s" x="201.7" y="564.54" font-size="19.5" text-anchor="middle">*</text>
<text class="s" x="216.33" y="559.14" font-size="19.5" text-anchor="middle">*</text>
<text x="54" y="596.35" font-size="8.8" text-anchor="end" transform="rotate(-42.8 54 593.2)" textLength="52.5" lengthAdjust="spacingAndGlyphs">No treatment</text>
<text x="71.03" y="596.35" font-size="8.8" text-anchor="end" transform="rotate(-42.8 71.03 593.2)" textLength="11.5" lengthAdjust="spacingAndGlyphs">NE</text>
<text x="84.06" y="596.35" font-size="8.8" text-anchor="end" transform="rotate(-42.8 84.06 593.2)" textLength="60.5" lengthAdjust="spacingAndGlyphs">10 μmol/L + NE</text>
<text x="98.69" y="596.35" font-size="8.8" text-anchor="end" transform="rotate(-42.8 98.69 593.2)" textLength="56.5" lengthAdjust="spacingAndGlyphs">1 μmol/L + NE</text>
<text x="113.32" y="596.35" font-size="8.8" text-anchor="end" transform="rotate(-42.8 113.32 593.2)" textLength="64" lengthAdjust="spacingAndGlyphs">0.1 μmol/L + NE</text>
<text x="127.95" y="596.35" font-size="8.8" text-anchor="end" transform="rotate(-42.8 127.95 593.2)" textLength="69" lengthAdjust="spacingAndGlyphs">0.01 μmol/L + NE</text>
<text x="142.58" y="596.35" font-size="8.8" text-anchor="end" transform="rotate(-42.8 142.58 593.2)" textLength="60.5" lengthAdjust="spacingAndGlyphs">10 μmol/L + NE</text>
<text x="157.21" y="596.35" font-size="8.8" text-anchor="end" transform="rotate(-42.8 157.21 593.2)" textLength="56.5" lengthAdjust="spacingAndGlyphs">1 μmol/L + NE</text>
<text x="171.84" y="596.35" font-size="8.8" text-anchor="end" transform="rotate(-42.8 171.84 593.2)" textLength="64" lengthAdjust="spacingAndGlyphs">0.1 μmol/L + NE</text>
<text x="186.47" y="596.35" font-size="8.8" text-anchor="end" transform="rotate(-42.8 186.47 593.2)" textLength="69" lengthAdjust="spacingAndGlyphs">0.01 μmol/L + NE</text>
<text x="201.1" y="596.35" font-size="8.8" text-anchor="end" transform="rotate(-42.8 201.1 593.2)" textLength="60.5" lengthAdjust="spacingAndGlyphs">10 μmol/L + NE</text>
<text x="215.73" y="596.35" font-size="8.8" text-anchor="end" transform="rotate(-42.8 215.73 593.2)" textLength="56.5" lengthAdjust="spacingAndGlyphs">1 μmol/L + NE</text>
<text x="230.36" y="596.35" font-size="8.8" text-anchor="end" transform="rotate(-42.8 230.36 593.2)" textLength="64" lengthAdjust="spacingAndGlyphs">0.1 μmol/L + NE</text>
<text x="244.99" y="596.35" font-size="8.8" text-anchor="end" transform="rotate(-42.8 244.99 593.2)" textLength="69" lengthAdjust="spacingAndGlyphs">0.01 μmol/L + NE</text>
<line x1="44.5" y1="646.8" x2="86.2" y2="646.8" stroke="#333" stroke-width="1.1"/>
<text x="46.8" y="658.77" font-size="9.4" textLength="36" lengthAdjust="spacingAndGlyphs">Atenolol</text>
<line x1="101" y1="646.8" x2="144" y2="646.8" stroke="#333" stroke-width="1.1"/>
<text x="102.5" y="658.77" font-size="9.4" textLength="44.5" lengthAdjust="spacingAndGlyphs">ICI118,551</text>
<line x1="157.2" y1="646.8" x2="199.4" y2="646.8" stroke="#333" stroke-width="1.1"/>
<text x="157.2" y="658.77" font-size="9.4" textLength="43.5" lengthAdjust="spacingAndGlyphs">SR59230A</text>
<text x="239.6" y="470.88" font-size="12.5">G</text>
<line x1="295.8" y1="478.2" x2="295.8" y2="586" stroke="#0a0a0a" stroke-width="1.5"/>
<line x1="295.1" y1="585.4" x2="494.6" y2="585.4" stroke="#0a0a0a" stroke-width="1.5"/>
<line x1="292.4" y1="478.9" x2="295.8" y2="478.9" stroke="#0a0a0a" stroke-width="1.5"/>
<text x="291.2" y="482.39" font-size="9.2" text-anchor="end" textLength="5.2" lengthAdjust="spacingAndGlyphs">6</text>
<line x1="292.4" y1="532.15" x2="295.8" y2="532.15" stroke="#0a0a0a" stroke-width="1.5"/>
<text x="291.2" y="535.64" font-size="9.2" text-anchor="end" textLength="5.2" lengthAdjust="spacingAndGlyphs">3</text>
<line x1="292.4" y1="585.4" x2="295.8" y2="585.4" stroke="#0a0a0a" stroke-width="1.5"/>
<text x="291.2" y="588.89" font-size="9.2" text-anchor="end" textLength="5.2" lengthAdjust="spacingAndGlyphs">0</text>
<text x="277" y="538.15" font-size="8.8" text-anchor="middle" transform="rotate(-90 277 535)" textLength="107.5" lengthAdjust="spacingAndGlyphs">mRNA relative expression</text>
<rect x="300.7" y="567.85" width="5.8" height="17.55" fill="#fff" stroke="#0a0a0a" stroke-width="1.5"/>
<line x1="303.6" y1="567.65" x2="303.6" y2="567.12" stroke="#0a0a0a" stroke-width="1.5"/>
<line x1="301.2" y1="567.12" x2="306" y2="567.12" stroke="#0a0a0a" stroke-width="1.5"/>
<rect x="308.55" y="566.26" width="7.9" height="19.14" fill="#0a0a0a"/>
<rect x="310.15" y="567.76" width="4.7" height="17.64" fill="url(#hatch)"/>
<line x1="312.45" y1="566.76" x2="312.45" y2="565.34" stroke="#0a0a0a" stroke-width="1.5"/>
<line x1="310.05" y1="565.34" x2="314.85" y2="565.34" stroke="#0a0a0a" stroke-width="1.5"/>
<rect x="317.8" y="567.12" width="7.4" height="18.28" fill="#0a0a0a"/>
<line x1="321.3" y1="567.12" x2="321.3" y2="566.41" stroke="#0a0a0a" stroke-width="1.5"/>
<line x1="318.9" y1="566.41" x2="323.7" y2="566.41" stroke="#0a0a0a" stroke-width="1.5"/>
<line x1="312.45" y1="585.4" x2="312.45" y2="588.6" stroke="#0a0a0a" stroke-width="1.2"/>
<rect x="333.7" y="576.73" width="5.8" height="8.68" fill="#fff" stroke="#0a0a0a" stroke-width="1.5"/>
<line x1="336.6" y1="576.52" x2="336.6" y2="576.17" stroke="#0a0a0a" stroke-width="1.5"/>
<line x1="334.2" y1="576.17" x2="339" y2="576.17" stroke="#0a0a0a" stroke-width="1.5"/>
<rect x="341.55" y="572.48" width="7.9" height="12.92" fill="#0a0a0a"/>
<rect x="343.15" y="573.98" width="4.7" height="11.42" fill="url(#hatch)"/>
<line x1="345.45" y1="572.98" x2="345.45" y2="572.26" stroke="#0a0a0a" stroke-width="1.5"/>
<line x1="343.05" y1="572.26" x2="347.85" y2="572.26" stroke="#0a0a0a" stroke-width="1.5"/>
<rect x="350.8" y="510.85" width="7.4" height="74.55" fill="#0a0a0a"/>
<line x1="354.3" y1="510.85" x2="354.3" y2="509.07" stroke="#0a0a0a" stroke-width="1.5"/>
<line x1="351.9" y1="509.07" x2="356.7" y2="509.07" stroke="#0a0a0a" stroke-width="1.5"/>
<line x1="345.45" y1="585.4" x2="345.45" y2="588.6" stroke="#0a0a0a" stroke-width="1.2"/>
<rect x="366.1" y="584.29" width="7" height="1.11" fill="#0a0a0a"/>
<rect x="374.55" y="558.27" width="7.9" height="27.12" fill="#0a0a0a"/>
<rect x="376.15" y="559.77" width="4.7" height="25.62" fill="url(#hatch)"/>
<line x1="378.45" y1="558.77" x2="378.45" y2="555.23" stroke="#0a0a0a" stroke-width="1.5"/>
<line x1="376.05" y1="555.23" x2="380.85" y2="555.23" stroke="#0a0a0a" stroke-width="1.5"/>
<rect x="383.8" y="572.98" width="7.4" height="12.42" fill="#0a0a0a"/>
<line x1="387.3" y1="572.98" x2="387.3" y2="572.62" stroke="#0a0a0a" stroke-width="1.5"/>
<line x1="384.9" y1="572.62" x2="389.7" y2="572.62" stroke="#0a0a0a" stroke-width="1.5"/>
<line x1="378.45" y1="585.4" x2="378.45" y2="588.6" stroke="#0a0a0a" stroke-width="1.2"/>
<rect x="399.7" y="583.83" width="5.8" height="1.57" fill="#fff" stroke="#0a0a0a" stroke-width="1.5"/>
<rect x="407.55" y="551.53" width="7.9" height="33.87" fill="#0a0a0a"/>
<rect x="409.15" y="553.03" width="4.7" height="32.37" fill="url(#hatch)"/>
<line x1="411.45" y1="552.03" x2="411.45" y2="551.5" stroke="#0a0a0a" stroke-width="1.5"/>
<line x1="409.05" y1="551.5" x2="413.85" y2="551.5" stroke="#0a0a0a" stroke-width="1.5"/>
<rect x="416.8" y="559.49" width="7.4" height="25.91" fill="#0a0a0a"/>
<line x1="420.3" y1="559.49" x2="420.3" y2="559.13" stroke="#0a0a0a" stroke-width="1.5"/>
<line x1="417.9" y1="559.13" x2="422.7" y2="559.13" stroke="#0a0a0a" stroke-width="1.5"/>
<line x1="411.45" y1="585.4" x2="411.45" y2="588.6" stroke="#0a0a0a" stroke-width="1.2"/>
<rect x="432.7" y="578.86" width="5.8" height="6.55" fill="#fff" stroke="#0a0a0a" stroke-width="1.5"/>
<line x1="435.6" y1="578.65" x2="435.6" y2="578.3" stroke="#0a0a0a" stroke-width="1.5"/>
<line x1="433.2" y1="578.3" x2="438" y2="578.3" stroke="#0a0a0a" stroke-width="1.5"/>
<rect x="440.55" y="571.59" width="7.9" height="13.81" fill="#0a0a0a"/>
<rect x="442.15" y="573.09" width="4.7" height="12.31" fill="url(#hatch)"/>
<line x1="444.45" y1="572.09" x2="444.45" y2="571.2" stroke="#0a0a0a" stroke-width="1.5"/>
<line x1="442.05" y1="571.2" x2="446.85" y2="571.2" stroke="#0a0a0a" stroke-width="1.5"/>
<rect x="449.8" y="579.01" width="7.4" height="6.39" fill="#0a0a0a"/>
<line x1="453.3" y1="579.01" x2="453.3" y2="578.65" stroke="#0a0a0a" stroke-width="1.5"/>
<line x1="450.9" y1="578.65" x2="455.7" y2="578.65" stroke="#0a0a0a" stroke-width="1.5"/>
<line x1="444.45" y1="585.4" x2="444.45" y2="588.6" stroke="#0a0a0a" stroke-width="1.2"/>
<rect x="465.7" y="583.47" width="5.8" height="1.93" fill="#fff" stroke="#0a0a0a" stroke-width="1.5"/>
<line x1="468.6" y1="583.27" x2="468.6" y2="583.09" stroke="#0a0a0a" stroke-width="1.5"/>
<line x1="466.2" y1="583.09" x2="471" y2="583.09" stroke="#0a0a0a" stroke-width="1.5"/>
<rect x="473.55" y="572.48" width="7.9" height="12.92" fill="#0a0a0a"/>
<rect x="475.15" y="573.98" width="4.7" height="11.42" fill="url(#hatch)"/>
<line x1="477.45" y1="572.98" x2="477.45" y2="572.26" stroke="#0a0a0a" stroke-width="1.5"/>
<line x1="475.05" y1="572.26" x2="479.85" y2="572.26" stroke="#0a0a0a" stroke-width="1.5"/>
<rect x="482.8" y="538.72" width="7.4" height="46.68" fill="#0a0a0a"/>
<line x1="486.3" y1="538.72" x2="486.3" y2="537.83" stroke="#0a0a0a" stroke-width="1.5"/>
<line x1="483.9" y1="537.83" x2="488.7" y2="537.83" stroke="#0a0a0a" stroke-width="1.5"/>
<line x1="477.45" y1="585.4" x2="477.45" y2="588.6" stroke="#0a0a0a" stroke-width="1.2"/>
<text class="s" x="421" y="562.94" font-size="22" text-anchor="middle">*</text>
<rect x="391.8" y="488.2" width="9.8" height="4.6" fill="#fff" stroke="#0a0a0a" stroke-width="1.3"/>
<rect x="391.2" y="496.9" width="11" height="5.6" fill="#0a0a0a"/>
<rect x="392.8" y="498.4" width="7.8" height="2.6" fill="url(#hatch)"/>
<rect x="391.2" y="506" width="11" height="5.8" fill="#0a0a0a"/>
<text x="407" y="493.34" font-size="8.2" textLength="29.5" lengthAdjust="spacingAndGlyphs">ADRB2</text>
<text x="407" y="502.54" font-size="8.2" textLength="29.5" lengthAdjust="spacingAndGlyphs">ADRB3</text>
<text x="407" y="511.74" font-size="8.2" textLength="28" lengthAdjust="spacingAndGlyphs">DUSP1</text>
<text x="314.05" y="601.17" font-size="9.4" text-anchor="end" transform="rotate(-43.6 314.05 597.8)" textLength="57.8" lengthAdjust="spacingAndGlyphs">No treatment</text>
<text x="347.05" y="600.97" font-size="9.4" text-anchor="end" transform="rotate(-43.6 347.05 597.6)" textLength="12.5" lengthAdjust="spacingAndGlyphs">NE</text>
<text x="380.05" y="601.17" font-size="9.4" text-anchor="end" transform="rotate(-43.6 380.05 597.8)" textLength="57.8" lengthAdjust="spacingAndGlyphs">No treatment</text>
<text x="413.05" y="600.97" font-size="9.4" text-anchor="end" transform="rotate(-43.6 413.05 597.6)" textLength="12.5" lengthAdjust="spacingAndGlyphs">NE</text>
<text x="446.05" y="601.17" font-size="9.4" text-anchor="end" transform="rotate(-43.6 446.05 597.8)" textLength="57.8" lengthAdjust="spacingAndGlyphs">No treatment</text>
<text x="479.05" y="600.97" font-size="9.4" text-anchor="end" transform="rotate(-43.6 479.05 597.6)" textLength="12.5" lengthAdjust="spacingAndGlyphs">NE</text>
<line x1="270" y1="644.4" x2="329.4" y2="644.4" stroke="#333" stroke-width="1"/>
<text x="270" y="656.44" font-size="9.6" textLength="62.5" lengthAdjust="spacingAndGlyphs">Control siRNA</text>
<line x1="341.6" y1="644.4" x2="397.2" y2="644.4" stroke="#333" stroke-width="1"/>
<text x="341.6" y="656.44" font-size="9.6" textLength="63.2" lengthAdjust="spacingAndGlyphs">ADRB2 siRNA</text>
<line x1="409.8" y1="644.4" x2="477" y2="644.4" stroke="#333" stroke-width="1"/>
<text x="412.4" y="656.44" font-size="9.6" textLength="62.8" lengthAdjust="spacingAndGlyphs">ADRB3 siRNA</text>
</g>
</svg>
</body>
</html>
